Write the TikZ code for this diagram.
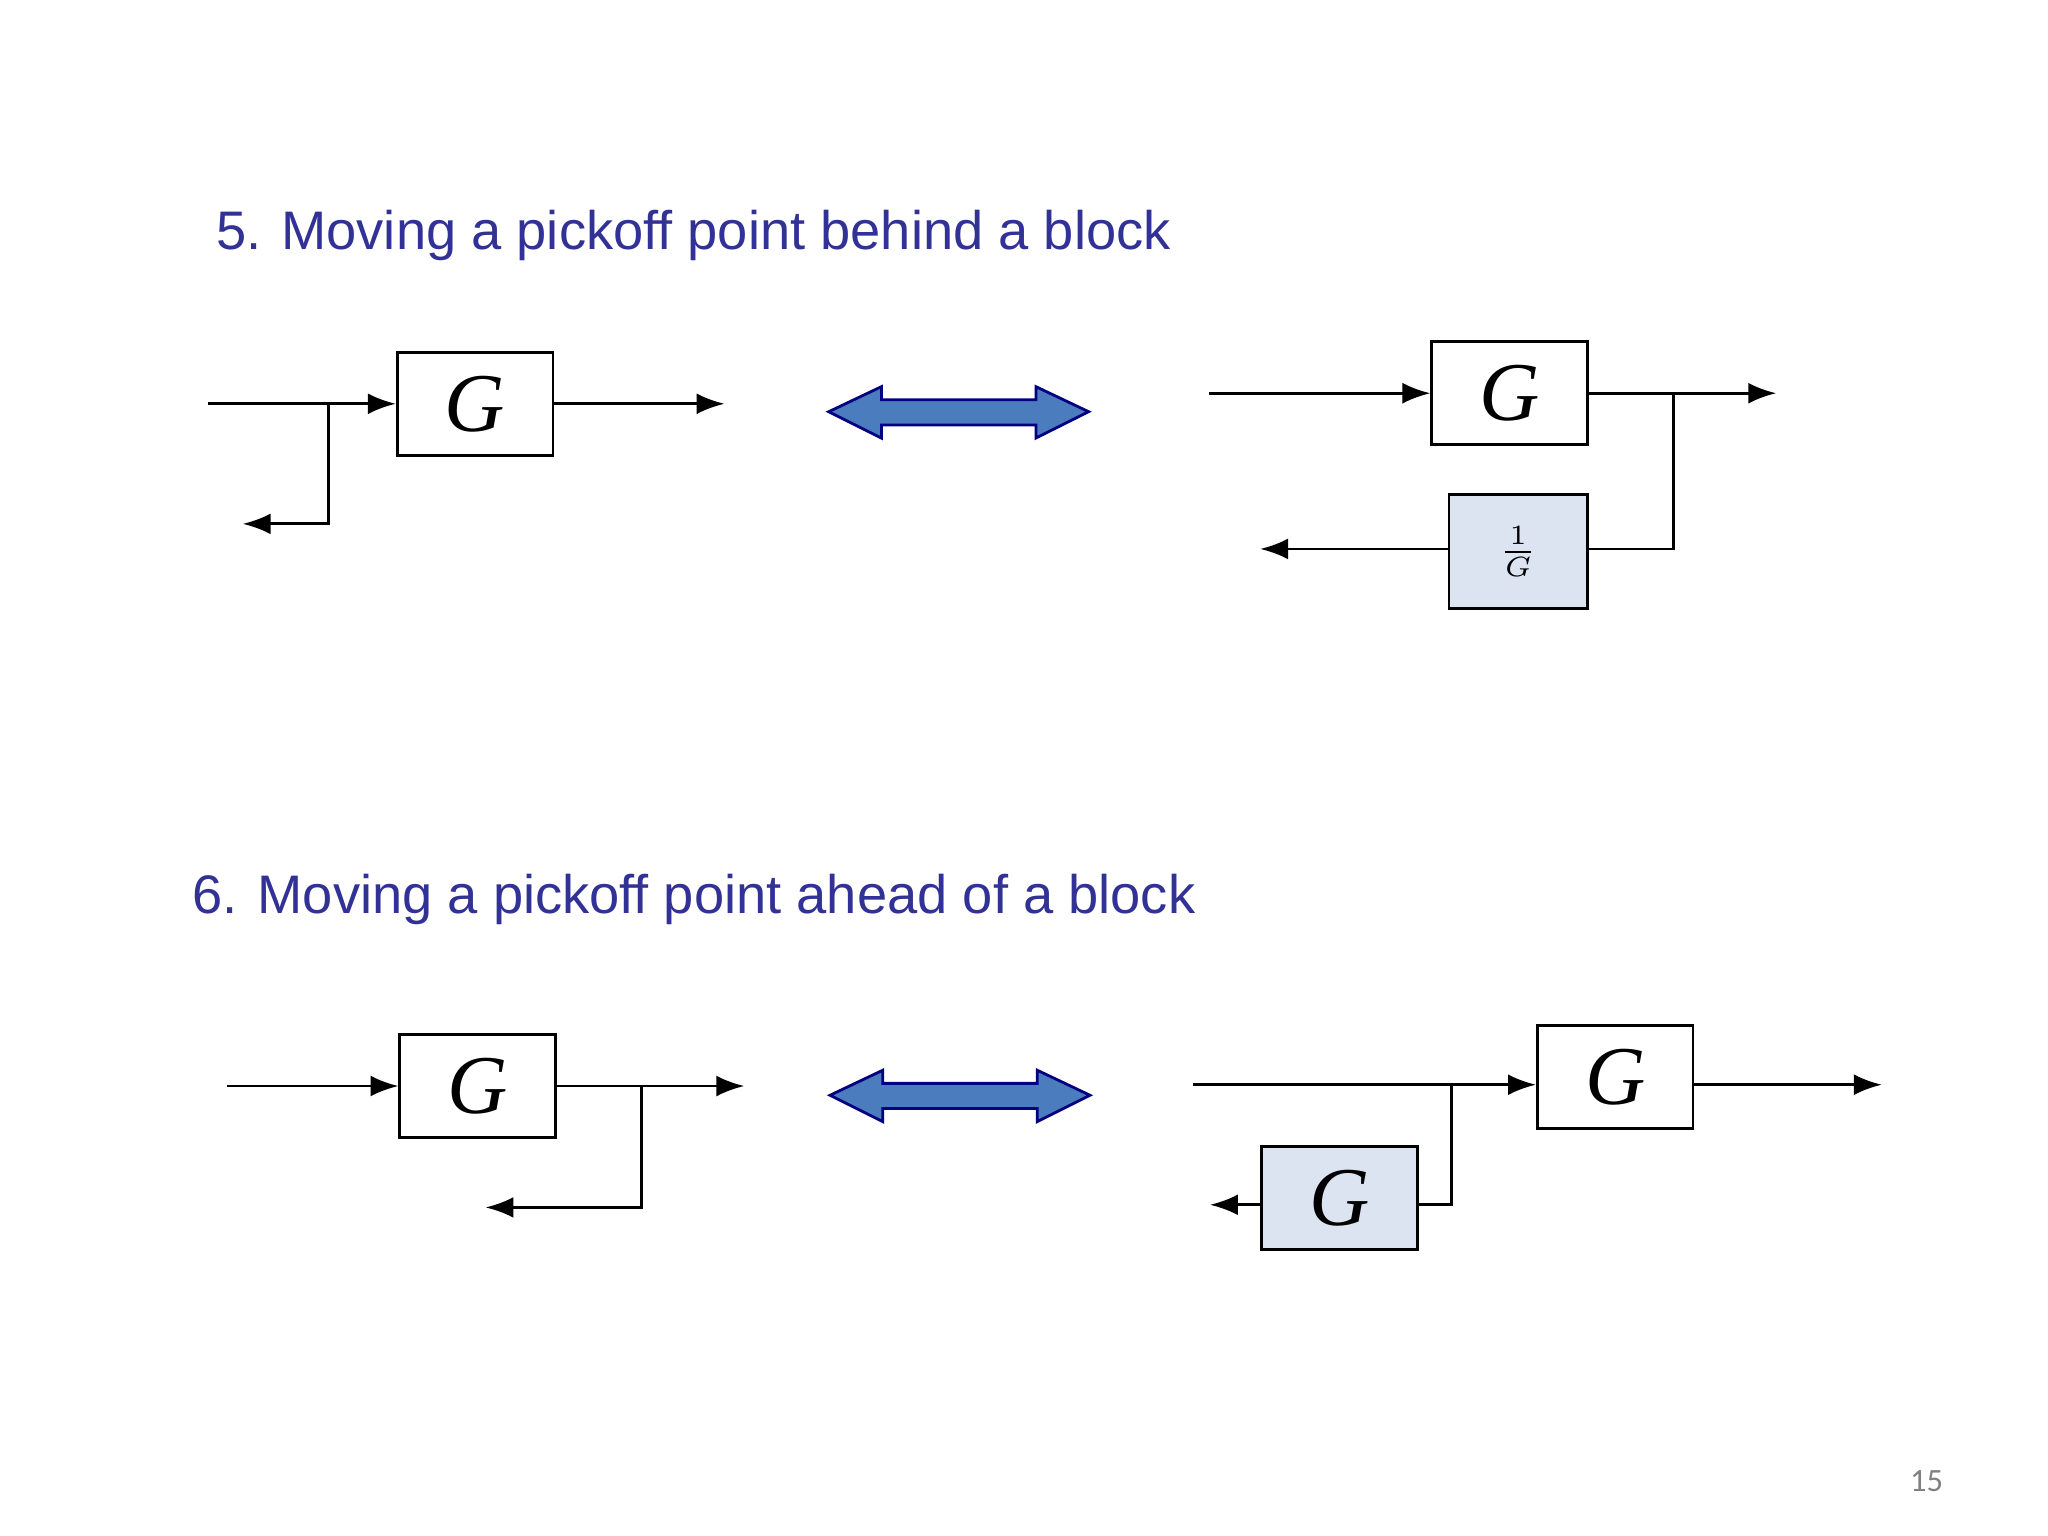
\documentclass[tikz,border=0pt]{standalone}
\usepackage{fontspec}
\setmainfont{Liberation Serif}
\newfontfamily\titlefont{Liberation Sans}
\newfontfamily\numfont{Carlito}
\begin{document}
\begin{tikzpicture}[x=0.01cm,y=-0.01cm,
  blk/.style={draw,line width=0.6pt,minimum width=1.18cm,minimum height=0.78cm,inner sep=0pt,font=\fontsize{18}{20}\selectfont\itshape},
  fblk/.style={blk,fill=blue!5!gray!15},
  sig/.style={line width=0.6pt,-{Latex[length=6pt,width=4.5pt]}},
  ln/.style={line width=0.6pt},
  ttl/.style={anchor=base west,text=blue!55!black!90,font=\titlefont\fontsize{11.7}{14}\selectfont,inner sep=0pt},
  dbl/.style={fill=blue!45!cyan!40!black!70,draw=blue!50!black,line width=0.6pt}]
\usetikzlibrary{arrows.meta}
\useasboundingbox (0,0) rectangle (1552,1164);
\definecolor{ttc}{RGB}{50,50,150}
\definecolor{arr}{RGB}{75,125,190}
\definecolor{fb}{RGB}{220,228,242}
% titles
\node[ttl,text=ttc] (t5) at (163,189) {5. Moving a pickoff point behind a block};
\node[ttl,text=ttc] (t6) at (145,692) {6. Moving a pickoff point ahead of a block};
\node[anchor=base,text=gray,font=\numfont\fontsize{7}{8}\selectfont] (pg) at (1460,1130) {15};
% --- section 5 left
\node[blk] (g1) at (360,306) {G};
\coordinate (i1) at (158,306);
\coordinate (p1) at (249,306);
\coordinate (d1) at (249,397);
\coordinate (e1) at (184,397);
\coordinate (o1) at (549,306);
\draw[sig] (i1) -- (g1.west);
\draw[sig] (p1) -- (d1) -- (e1);
\draw[sig] (g1.east) -- (o1);
% double arrow 5
\draw[dbl,fill=arr] (628,312) -- (668,293) -- (668,303) -- (785,303) -- (785,293) -- (825,312) -- (785,332) -- (785,322) -- (668,322) -- (668,332) -- cycle;
% --- section 5 right
\node[blk] (g2) at (1144,298) {G};
\node[blk,fill=fb,minimum height=0.86cm,minimum width=1.05cm,font=\fontsize{9}{10}\selectfont] (g2i) at (1150.5,418) {$\frac{1}{G}$};
\coordinate (i2) at (916,298);
\coordinate (p2) at (1268,298);
\coordinate (d2) at (1268,416);
\coordinate (o2) at (1346,298);
\coordinate (e2) at (955,416);
\draw[sig] (i2) -- (g2.west);
\draw[sig] (g2.east) -- (o2);
\draw[ln] (p2) -- (d2) -- (g2i.east |- d2);
\draw[sig] (g2i.west |- e2) -- (e2);
% --- section 6 left
\node[blk] (g3) at (362,823) {G};
\coordinate (i3) at (172,823);
\coordinate (p3) at (486,823);
\coordinate (d3) at (486,915);
\coordinate (e3) at (368,915);
\coordinate (o3) at (564,823);
\draw[sig] (i3) -- (g3.west);
\draw[sig] (g3.east) -- (o3);
\draw[sig] (p3) -- (d3) -- (e3);
% double arrow 6
\draw[dbl,fill=arr] (629,830) -- (669,811) -- (669,821) -- (786,821) -- (786,811) -- (826,830) -- (786,850) -- (786,840) -- (669,840) -- (669,850) -- cycle;
% --- section 6 right
\node[blk] (g4) at (1224,816) {G};
\node[fblk,fill=fb] (g4b) at (1015,908) {G};
\coordinate (i4) at (904,822);
\coordinate (p4) at (1100,822);
\coordinate (d4) at (1100,913);
\coordinate (o4) at (1426,822);
\coordinate (e4) at (917,913);
\draw[sig] (i4) -- (g4.west |- i4);
\draw[sig] (g4.east |- o4) -- (o4);
\draw[ln] (p4) -- (d4) -- (g4b.east |- d4);
\draw[sig] (g4b.west |- e4) -- (e4);
\end{tikzpicture}
\end{document}
